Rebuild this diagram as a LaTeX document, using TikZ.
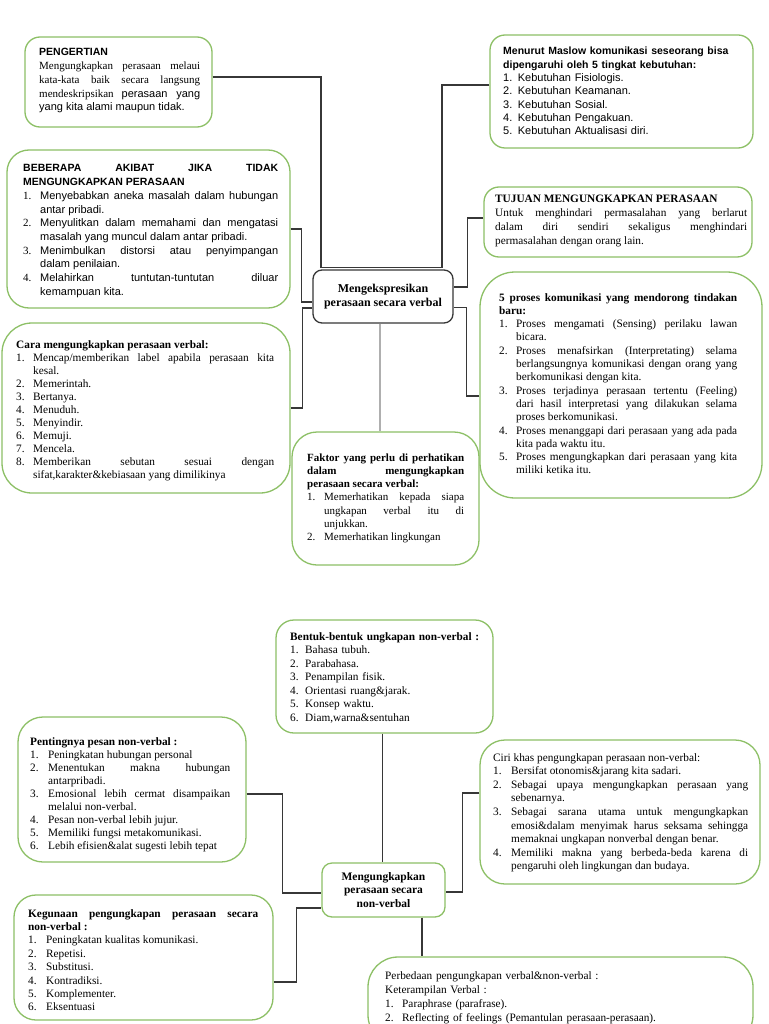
\documentclass[tikz,border=0pt]{standalone}
\usepackage{fontspec}
\setmainfont{Liberation Serif}
\setsansfont{Liberation Sans}
\usetikzlibrary{fit}
\definecolor{boxgreen}{RGB}{141,192,102}
\definecolor{linkgray}{RGB}{55,55,55}
\definecolor{stemgray}{RGB}{175,175,175}
\newcommand{\mSet}[2][11.3]{\fontsize{#1}{#2}\selectfont\tolerance=10000\hbadness=10000\hyphenpenalty=10000\exhyphenpenalty=10000}
\newcommand{\mItem}[2][17pt]{\par\hangindent=#1\hangafter=1\noindent\makebox[#1][l]{#2}\ignorespaces}
\tikzset{
  gbox/.style={draw=boxgreen, line width=1.3pt, rounded corners=#1, inner sep=0pt},
  gbox/.default=15pt,
  kbox/.style={draw=linkgray, line width=1.3pt, rounded corners=9pt, inner sep=0pt},
  mtext/.style={anchor=base west, inner sep=0pt, align=justify, text width=#1},
  link/.style={draw=linkgray, line width=1.4pt},
}
\begin{document}
\begin{tikzpicture}[x=1pt,y=-1pt]
\path[use as bounding box, fill=white] (0,0) rectangle (768,1024);
% verbal
\node[kbox, fit={(313,270) (453,323)}] (verb) {};
\node[font=\bfseries\fontsize{12}{14}\selectfont, align=center] (verbT) at (verb.center) {Mengekspresikan\\perasaan secara verbal};
\node[gbox, fit={(25,37) (212,127)}] (peng) {};
\node[gbox, fit={(490,35) (753,148)}] (maslow) {};
\node[gbox=22pt, fit={(7,150) (290,308)}] (akibat) {};
\node[gbox, fit={(484,187) (752,257)}] (tujuan) {};
\node[gbox=30pt, fit={(2,323) (290,493)}] (cara) {};
\node[gbox=35pt, fit={(480,272) (762,498)}] (proses) {};
\node[gbox=25pt, fit={(292,432) (479,565)}] (faktor) {};
\node[mtext=161pt, font={\mSet[11]{13.7}}] (pengT) at (39,56) {{\sffamily\bfseries\fontsize{10.5}{13.7}\selectfont PENGERTIAN}\par
Mengungkapkan perasaan melaui\linebreak kata-kata baik secara langsung\linebreak mendeskripsikan {\sffamily perasaan yang}\linebreak {\sffamily yang kita alami maupun tidak.}\par};
\node[mtext=245pt, align=left, font={\sffamily\mSet[11]{13.3}}] (maslowT) at (503,55) {{\bfseries\fontsize{10.5}{13.3}\selectfont Menurut Maslow komunikasi seseorang bisa}\par
{\bfseries\fontsize{10.5}{13.3}\selectfont dipengaruhi oleh 5 tingkat kebutuhan:}\par
1. Kebutuhan Fisiologis.\par 2. Kebutuhan Keamanan.\par 3. Kebutuhan Sosial.\par 4. Kebutuhan Pengakuan.\par 5. Kebutuhan Aktualisasi diri.\par};
\node[mtext=255pt, font={\sffamily\mSet[11]{13.7}}] (akibatT) at (23,172) {{\bfseries\fontsize{10.5}{13.7}\selectfont BEBERAPA AKIBAT JIKA TIDAK\linebreak MENGUNGKAPKAN PERASAAN}
\mItem{\rmfamily 1.}Menyebabkan aneka masalah dalam hubungan\linebreak antar pribadi.
\mItem{\rmfamily 2.}Menyulitkan dalam memahami dan mengatasi\linebreak masalah yang muncul dalam antar pribadi.
\mItem{\rmfamily 3.}Menimbulkan distorsi atau penyimpangan\linebreak dalam penilaian.
\mItem{\rmfamily 4.}Melahirkan tuntutan-tuntutan diluar\linebreak kemampuan kita.\par};
\node[mtext=252pt, font={\mSet{13.7}}] (tujuanT) at (495,203) {\textbf{TUJUAN MENGUNGKAPKAN PERASAAN}\par
Untuk menghindari permasalahan yang berlarut\linebreak dalam diri sendiri sekaligus menghindari\linebreak permasalahan dengan orang lain.\par};
\node[mtext=258pt, font={\mSet{13}}] (caraT) at (16,348) {\textbf{Cara mengungkapkan perasaan verbal:}
\mItem{1.}Mencap/memberikan label apabila perasaan kita\linebreak kesal.
\mItem{2.}Memerintah.
\mItem{3.}Bertanya.
\mItem{4.}Menuduh.
\mItem{5.}Menyindir.
\mItem{6.}Memuji.
\mItem{7.}Mencela.
\mItem{8.}Memberikan sebutan sesuai dengan\linebreak sifat,karakter\&kebiasaan yang dimilikinya\par};
\node[mtext=238pt, font={\mSet{13.3}}] (prosesT) at (499,301) {\textbf{5 proses komunikasi yang mendorong tindakan\linebreak baru:}
\mItem{1.}Proses mengamati (Sensing) perilaku lawan\linebreak bicara.
\mItem{2.}Proses menafsirkan (Interpretating) selama\linebreak berlangsungnya komunikasi dengan orang yang\linebreak berkomunikasi dengan kita.
\mItem{3.}Proses terjadinya perasaan tertentu (Feeling)\linebreak dari hasil interpretasi yang dilakukan selama\linebreak proses berkomunikasi.
\mItem{4.}Proses menanggapi dari perasaan yang ada pada\linebreak kita pada waktu itu.
\mItem{5.}Proses mengungkapkan dari perasaan yang kita\linebreak miliki ketika itu.\par};
\node[mtext=157pt, font={\mSet[11]{13.3}}] (faktorT) at (307,461) {\textbf{Faktor yang perlu di perhatikan\linebreak dalam mengungkapkan\linebreak perasaan secara verbal:}
\mItem{1.}Memerhatikan kepada siapa\linebreak ungkapan verbal itu di\linebreak unjukkan.
\mItem{2.}Memerhatikan lingkungan\par};
\draw[link] ([yshift=5pt]peng.east) -| ([xshift=-62pt,yshift=2pt]verb.north) -- ([yshift=2pt]verb.north);
\draw[link] ([yshift=6.5pt]maslow.west) -| ([xshift=59pt,yshift=2pt]verb.north) -- ([yshift=2pt]verb.north);
\draw[link] (akibat.east) -| ([xshift=-11pt,yshift=-5.5pt]verb.west) -- ([yshift=-5.5pt]verb.west);
\draw[link] (cara.east) -| ([xshift=-10pt,yshift=-11.5pt]verb.west) -- ([yshift=-11.5pt]verb.west);
\draw[link] ([yshift=4pt]tujuan.west) -| ([xshift=14pt,yshift=9.5pt]verb.east) -- ([yshift=9.5pt]verb.east);
\draw[link] ([yshift=-11pt]proses.west) -| ([xshift=13pt,yshift=-11pt]verb.east) -- ([yshift=-11pt]verb.east);
\coordinate (stemtop) at ([xshift=-3pt]verb.south);
\draw[stemgray, line width=1.4pt] (stemtop) -- (stemtop |- faktor.north);
% non-verbal
\node[gbox=10pt, fit={(322,863) (445,917)}] (nonv) {};
\node[font=\bfseries\fontsize{11.5}{13.5}\selectfont, align=center] (nonvT) at (nonv.center) {Mengungkapkan\\perasaan secara\\non-verbal};
\node[gbox=18pt, fit={(276,620) (493,733)}] (bentuk) {};
\node[gbox=25pt, fit={(18,717) (246,862)}] (penting) {};
\node[gbox=25pt, fit={(480,740) (760,884)}] (ciri) {};
\node[gbox=22pt, fit={(14,895) (273,1020)}] (guna) {};
\node[gbox=30pt, fit={(368,957) (753,1045)}] (perb) {};
\node[mtext=205pt, align=left, font={\mSet{13.5}}] (bentukT) at (290,640) {\textbf{Bentuk-bentuk ungkapan non-verbal :}
\mItem[15pt]{1.}Bahasa tubuh.
\mItem[15pt]{2.}Parabahasa.
\mItem[15pt]{3.}Penampilan fisik.
\mItem[15pt]{4.}Orientasi ruang\&jarak.
\mItem[15pt]{5.}Konsep waktu.
\mItem[15pt]{6.}Diam,warna\&sentuhan\par};
\node[mtext=200pt, font={\mSet{13}}] (pentingT) at (30,745) {\textbf{Pentingnya pesan non-verbal :}
\mItem[18pt]{1.}Peningkatan hubungan personal
\mItem[18pt]{2.}Menentukan makna hubungan\linebreak antarpribadi.
\mItem[18pt]{3.}Emosional lebih cermat disampaikan\linebreak melalui non-verbal.
\mItem[18pt]{4.}Pesan non-verbal lebih jujur.
\mItem[18pt]{5.}Memiliki fungsi metakomunikasi.
\mItem[18pt]{6.}Lebih efisien\&alat sugesti lebih tepat\par};
\node[mtext=255pt, font={\mSet{13.6}}] (ciriT) at (493,761) {Ciri khas pengungkapan perasaan non-verbal:
\mItem[18pt]{1.}Bersifat otonomis\&jarang kita sadari.
\mItem[18pt]{2.}Sebagai upaya mengungkapkan perasaan yang\linebreak sebenarnya.
\mItem[18pt]{3.}Sebagai sarana utama untuk mengungkapkan\linebreak emosi\&dalam menyimak harus seksama sehingga\linebreak memaknai ungkapan nonverbal dengan benar.
\mItem[18pt]{4.}Memiliki makna yang berbeda-beda karena di\linebreak pengaruhi oleh lingkungan dan budaya.\par};
\node[mtext=230pt, font={\mSet{13.4}}] (gunaT) at (28,917) {\textbf{Kegunaan pengungkapan perasaan secara\linebreak non-verbal :}
\mItem[18pt]{1.}Peningkatan kualitas komunikasi.
\mItem[18pt]{2.}Repetisi.
\mItem[18pt]{3.}Substitusi.
\mItem[18pt]{4.}Kontradiksi.
\mItem[18pt]{5.}Komplementer.
\mItem[18pt]{6.}Eksentuasi\par};
\node[mtext=330pt, align=left, font={\mSet{14}}] (perbT) at (385,979) {Perbedaan pengungkapan verbal\&non-verbal :\par
Keterampilan Verbal :
\mItem{1.}Paraphrase (parafrase).
\mItem{2.}Reflecting of feelings (Pemantulan perasaan-perasaan).\par};
\coordinate (bstem) at ([xshift=-2pt]bentuk.south);
\draw[link] (bstem) -- (bstem |- nonv.north);
\draw[link] ([yshift=-4.5pt]penting.east) -| ([xshift=-39pt,yshift=-3pt]nonv.west) -- ([yshift=-3pt]nonv.west);
\draw[link] ([yshift=-24.5pt]guna.east) -| ([xshift=-25pt,yshift=-18pt]nonv.west) -- ([yshift=-18pt]nonv.west);
\draw[link] ([yshift=19pt]ciri.west) -| ([xshift=17pt,yshift=-2pt]nonv.east) -- ([yshift=-2pt]nonv.east);
\coordinate (pstem) at ([xshift=38.5pt]nonv.south);
\draw[link] (pstem) -- (pstem |- perb.north);
\end{tikzpicture}
\end{document}
